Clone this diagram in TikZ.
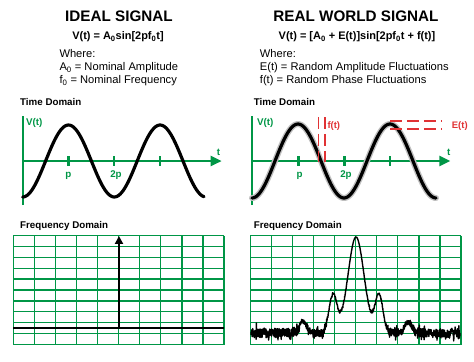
\documentclass[tikz,border=0pt]{standalone}
\usepackage{fontspec}
\setmainfont{Liberation Sans}
\usetikzlibrary{arrows.meta}
\definecolor{scopegreen}{RGB}{0,150,70}
\definecolor{errred}{RGB}{224,50,52}
\tikzset{
  title/.style={font=\bfseries\fontsize{15.3}{18}\selectfont, anchor=base, inner sep=0},
  formula/.style={font=\bfseries\fontsize{11}{13}\selectfont, anchor=base, inner sep=0},
  note/.style={font=\fontsize{11.2}{13}\selectfont, anchor=base west, inner sep=0},
  panel/.style={font=\bfseries\fontsize{9.8}{12}\selectfont, anchor=base west, inner sep=0},
  axlabel/.style={text=scopegreen, font=\bfseries\fontsize{9.8}{12}\selectfont, inner sep=0},
  errlabel/.style={text=errred, font=\bfseries\fontsize{9.5}{12}\selectfont, anchor=base west, inner sep=0},
  axis/.style={scopegreen, line width=2.4},
  gridline/.style={scopegreen, line width=1.3},
  wave/.style={line width=3.2, line cap=round},
  fluct/.style={errred, line width=1.6, dash pattern=on 12pt off 5pt}
}
\begin{document}
\begin{tikzpicture}[x=1bp, y=-1bp,
  declare function={
    bump(\x,\m,\s)=exp(-min(0.5*((\x-\m)/\s)^2,20));
    spec(\x)=96*bump(\x,356,8)+38*bump(\x,333,4)+38*bump(\x,379,4)
             +12*bump(\x,303,3.5)+11*bump(\x,408,3.5);}]
\useasboundingbox (0,0) rectangle (474,361);

% headings
\node[title] (idealT) at (119,21.7) {IDEAL SIGNAL};
\node[formula] (idealF) at (118,39.5) {V(t) = A\textsubscript{0}sin[2pf\textsubscript{0}t]};
\node[note] (idealW) at (59.3,57.3) {Where:};
\node[note] (idealA) at (59.3,70.3) {A\textsubscript{0} = Nominal Amplitude};
\node[note] (idealN) at (59.3,83.3) {f\textsubscript{0} = Nominal Frequency};

\node[title] (realT) at (356,21.7) {REAL WORLD SIGNAL};
\node[formula] (realF) at (357,39.5) {V(t) = [A\textsubscript{0} + E(t)]sin[2pf\textsubscript{0}t + f(t)]};
\node[note] (realW) at (259.7,57.3) {Where:};
\node[note] (realE) at (259.7,70.3) {E(t) = Random Amplitude Fluctuations};
\node[note] (realP) at (259.7,83.3) {f(t) = Random Phase Fluctuations};

\node[panel] (timeL) at (20,105.5) {Time Domain};
\node[panel] (timeR) at (253.7,105.5) {Time Domain};
\node[panel] (freqL) at (20,228.5) {Frequency Domain};
\node[panel] (freqR) at (253.7,228.5) {Frequency Domain};

% time domain, ideal
\coordinate (vL0) at (22.7,205); \coordinate (vL1) at (22.7,115.7);
\coordinate (tL0) at (22.7,161); \coordinate (tL1) at (221.7,161);
\draw[axis] (vL0) -- (vL1);
\draw[axis, -{Triangle[length=11pt,width=10pt]}] (tL0) -- (tL1);
\foreach \x in {68.4,114.3,160.2} \draw[axis] (\x,156) -- (\x,166);
\draw[wave] plot[domain=22.7:204, samples=120, smooth] (\x,{161+36*cos(3.9301*(\x-22.7))});
\node[axlabel, anchor=base west] (vtL) at (26,125) {V(t)};
\node[axlabel, anchor=base west] (tlabL) at (216.7,155.5) {t};
\node[axlabel, anchor=base] (piL) at (68.4,177) {p};
\node[axlabel, anchor=base] (twopiL) at (116,177) {2p};

% time domain, real world
\coordinate (vR0) at (252,205); \coordinate (vR1) at (252,115.7);
\coordinate (tR0) at (252,161); \coordinate (tR1) at (450.3,161);
\draw[axis] (vR0) -- (vR1);
\draw[axis, -{Triangle[length=11pt,width=10pt]}] (tR0) -- (tR1);
\foreach \x in {298.4,344.3,390.2} \draw[axis] (\x,156) -- (\x,166);
\draw[gray!50, line width=6, line cap=round] plot[domain=252:436, samples=120, smooth] (\x,{161+37*cos(3.9130*(\x-252))});
\draw[wave] plot[domain=252:436, samples=120, smooth] (\x,{161+37*cos(3.9130*(\x-252))});
\node[axlabel, anchor=base west] (vtR) at (257,125) {V(t)};
\node[axlabel, anchor=base west] (tlabR) at (447,155.5) {t};
\node[axlabel, anchor=base] (piR) at (299.5,177) {p};
\node[axlabel, anchor=base] (twopiR) at (346,177) {2p};

% fluctuation markers
\coordinate (fa0) at (318.3,117); \coordinate (fa1) at (318.3,162);
\coordinate (fb0) at (325,117); \coordinate (fb1) at (325,162);
\coordinate (ea0) at (390,120.7); \coordinate (ea1) at (442,120.7);
\coordinate (eb0) at (390,129); \coordinate (eb1) at (442,129);
\draw[fluct] (fa0) -- (fa1);
\draw[fluct] (fb0) -- (fb1);
\draw[fluct] (ea0) -- (ea1);
\draw[fluct] (eb0) -- (eb1);
\node[errlabel] (ftlab) at (327.3,128.5) {f(t)};
\node[errlabel] (etlab) at (451.7,128.5) {E(t)};

% frequency domain grids
\foreach \g in {13.3,250.3} {
  \foreach \i in {0,...,10} {
    \draw[gridline] ({\g+21.07*\i},235.5) -- ({\g+21.07*\i},344.5);
    \draw[gridline] (\g,{235.5+10.9*\i}) -- ({\g+210.7},{235.5+10.9*\i});
  }
}

% ideal spectrum
\coordinate (bl0) at (13.3,328.4); \coordinate (bl1) at (224,328.4);
\coordinate (cw0) at (119,328.4); \coordinate (cw1) at (119,236);
\draw[black, line width=2] (bl0) -- (bl1);
\draw[black, line width=2, -{Triangle[length=8pt,width=8pt]}] (cw0) -- (cw1);

% real world spectrum
\pgfmathsetseed{4231}
\draw[black, line width=1.4, line join=round]
  plot[domain=251:460, samples=900]
  (\x,{333-spec(\x)+(4.5*rand+7*rand*rand*rand)*exp(-spec(\x)/22)});
\end{tikzpicture}
\end{document}
